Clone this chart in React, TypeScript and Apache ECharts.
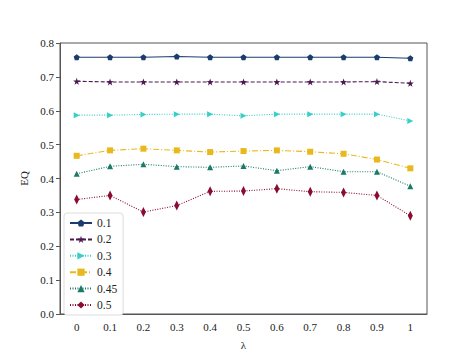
import React, { useEffect, useRef } from "react";
import * as echarts from "echarts";

const lambdas = ["0", "0.1", "0.2", "0.3", "0.4", "0.5", "0.6", "0.7", "0.8", "0.9", "1"];
const seriesNames = ["0.1", "0.2", "0.3", "0.4", "0.45", "0.5"];
const s01 = [0.758, 0.758, 0.758, 0.760, 0.758, 0.758, 0.758, 0.758, 0.758, 0.758, 0.755];
const s02 = [0.687, 0.685, 0.685, 0.685, 0.685, 0.685, 0.685, 0.685, 0.685, 0.686, 0.681];
const s03 = [0.587, 0.587, 0.589, 0.590, 0.590, 0.585, 0.590, 0.590, 0.590, 0.590, 0.570];
const s04 = [0.467, 0.483, 0.488, 0.483, 0.478, 0.481, 0.483, 0.479, 0.473, 0.456, 0.430];
const s045 = [0.414, 0.436, 0.442, 0.435, 0.433, 0.437, 0.423, 0.435, 0.420, 0.420, 0.377];
const s05 = [0.338, 0.350, 0.301, 0.320, 0.362, 0.363, 0.370, 0.361, 0.359, 0.350, 0.290];
const yTicks = [0, 0.1, 0.2, 0.3, 0.4, 0.5, 0.6, 0.7, 0.8];

const colors = ["#1b3d6e", "#4b1850", "#37cfc8", "#e9b81c", "#1a7a66", "#8a0c30"];
const pentagon = "path://M0,-10L9.51,-3.09L5.88,8.09L-5.88,8.09L-9.51,-3.09Z";
const star =
  "path://M0,-10L2.35,-3.24L9.51,-3.09L3.8,1.24L5.88,8.09L0,4L-5.88,8.09L-3.8,1.24L-9.51,-3.09L-2.35,-3.24Z";

export default function App() {
  const ref = useRef<HTMLDivElement>(null);
  useEffect(() => {
    if (!ref.current) return;
    const chart = echarts.init(ref.current, null, { renderer: "svg" });
    const font = "'Liberation Serif', 'Times New Roman', serif";
    const data = [s01, s02, s03, s04, s045, s05];
    const symbols = [pentagon, star, "triangle", "rect", "triangle", "diamond"];
    const sizes: any[] = [6, 7, 6, 6, 6, [5, 10]];
    const rotates = [0, 0, -90, 0, 0, 0];
    const lineTypes: any[] = ["solid", [4, 2], [1, 1.5], [6, 2, 1, 2], [1, 1.5], [1, 1.5]];
    const series = data.map((d, i) => ({
      name: seriesNames[i],
      type: "line",
      data: d,
      symbol: symbols[i],
      symbolSize: sizes[i],
      symbolRotate: rotates[i],
      showAllSymbol: true,
      color: colors[i],
      itemStyle: { color: colors[i] },
      lineStyle: { color: colors[i], width: 1.1, type: lineTypes[i] },
    }));
    chart.setOption({
      animation: false,
      textStyle: { fontFamily: font },
      grid: {
        left: 60,
        right: 47,
        top: 43,
        bottom: 39,
        show: true,
        borderColor: "#555",
        borderWidth: 1,
      },
      legend: {
        orient: "vertical",
        left: 64,
        top: 213,
        data: seriesNames,
        backgroundColor: "#fff",
        borderColor: "#ddd",
        borderWidth: 1,
        borderRadius: 3,
        padding: [4, 6, 4, 5],
        itemGap: 4.4,
        itemWidth: 22,
        itemHeight: 9,
        textStyle: { fontFamily: font, fontSize: 11.5, color: "#222", padding: [0, 0, 0, 0] },
      },
      xAxis: {
        type: "category",
        data: lambdas,
        boundaryGap: true,
        name: "λ",
        nameLocation: "middle",
        nameGap: 25,
        nameTextStyle: { fontFamily: font, fontSize: 11, color: "#222" },
        axisLine: { lineStyle: { color: "#555" } },
        axisTick: { alignWithLabel: true, length: 4, lineStyle: { color: "#555" } },
        axisLabel: { fontFamily: font, fontSize: 11, color: "#222", margin: 7 },
      },
      yAxis: {
        type: "value",
        min: 0,
        max: 0.8,
        interval: 0.1,
        name: "EQ",
        nameLocation: "middle",
        nameGap: 29,
        nameTextStyle: { fontFamily: font, fontSize: 11, color: "#222" },
        splitLine: { show: false },
        axisLine: { show: true, lineStyle: { color: "#555" } },
        axisTick: { show: true, length: 4, lineStyle: { color: "#555" } },
        axisLabel: {
          fontFamily: font,
          fontSize: 11,
          color: "#222",
          margin: 6,
          formatter: (v: number) => yTicks.find((t) => Math.abs(t - v) < 1e-9)!.toFixed(1),
        },
      },
      series,
    });
    return () => chart.dispose();
  }, []);
  return (
    <div
      ref={ref}
      style={{ position: "absolute", left: 0, top: 0, width: 474, height: 355 }}
    />
  );
}
